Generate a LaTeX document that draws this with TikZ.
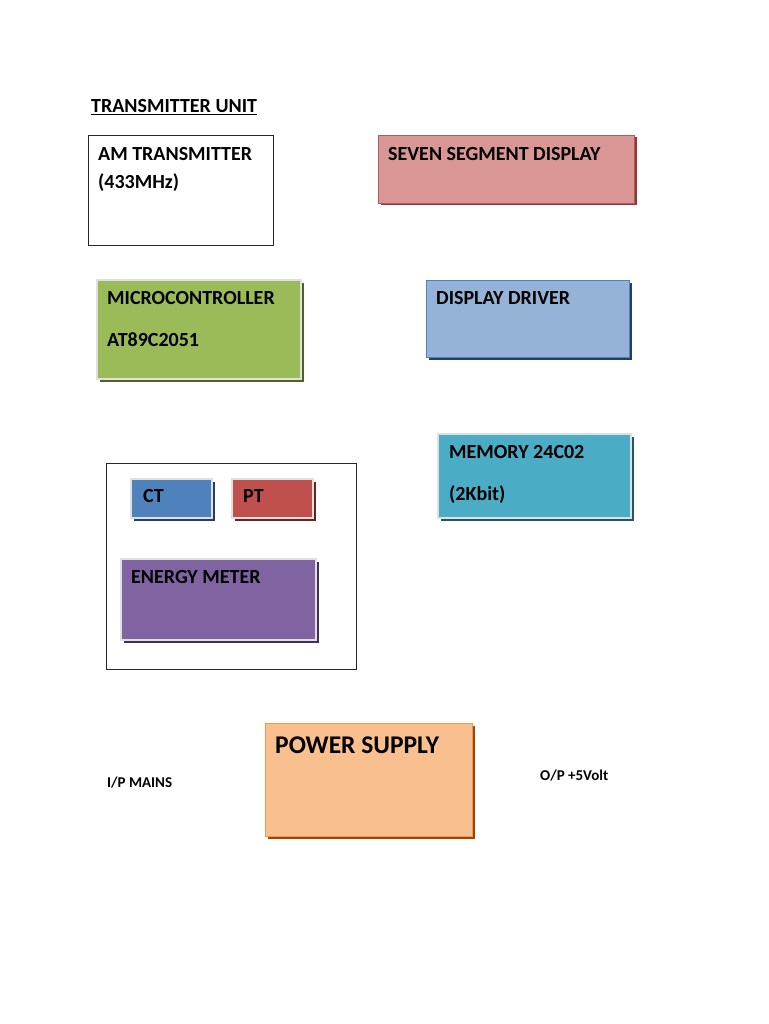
\documentclass[tikz,border=0pt]{standalone}
\usepackage{fontspec}
\setmainfont{Carlito}
\usetikzlibrary{shadows}
\definecolor{segF}{HTML}{D99694}\definecolor{segS}{HTML}{943634}
\definecolor{micF}{HTML}{9BBB59}\definecolor{micS}{HTML}{4F6228}
\definecolor{drvF}{HTML}{95B3D7}\definecolor{drvS}{HTML}{243F60}\definecolor{drvB}{HTML}{4F81BD}
\definecolor{memF}{HTML}{4BACC6}\definecolor{memS}{HTML}{205867}
\definecolor{ctF}{HTML}{4F81BD}\definecolor{ctS}{HTML}{243F60}
\definecolor{ptF}{HTML}{C0504D}\definecolor{ptS}{HTML}{632423}
\definecolor{emF}{HTML}{8064A2}\definecolor{emS}{HTML}{3F3151}
\definecolor{psF}{HTML}{FABF8F}\definecolor{psS}{HTML}{974806}\definecolor{psB}{HTML}{F79646}
\tikzset{
  box/.style={rectangle, anchor=north west, inner sep=0pt, outer sep=0pt},
  plainbox/.style={box, draw=black!85, line width=0.8pt, fill=white},
  glowbox/.style={box, draw=white!88!black, line width=2.5pt},
  shad/.style={drop shadow={shadow xshift=2.5pt, shadow yshift=-2.5pt, fill=#1, opacity=1}},
  lbl/.style={anchor=base west, inner sep=0pt, font=\bfseries\fontsize{20}{24}\selectfont},
  small/.style={anchor=base west, inner sep=0pt, font=\bfseries\fontsize{15}{18}\selectfont},
}
\begin{document}
\begin{tikzpicture}[x=1pt,y=-1pt]
\useasboundingbox (0,0) rectangle (768,1024);
\fill[white] (0,0) rectangle (768,1024);
% title
\node[lbl] (title) at (91,112.5) {\underline{TRANSMITTER UNIT}};
% AM transmitter
\node[plainbox, minimum width=185, minimum height=110] (am) at (88,135) {};
\node[lbl] (amt1) at (98,160.5) {AM TRANSMITTER};
\node[lbl] (amt2) at (98,188.5) {(433MHz)};
% seven segment
\node[box, shad=segS, draw=segS!60!segF, line width=0.6pt, fill=segF, minimum width=256, minimum height=68] (seg) at (378,135) {};
\node[lbl] (segt) at (388,160.5) {SEVEN SEGMENT DISPLAY};
% microcontroller
\node[glowbox, shad=micS, fill=micF, minimum width=204, minimum height=99] (mic) at (97,280) {};
\node[lbl] (mict1) at (107,304) {MICROCONTROLLER};
\node[lbl] (mict2) at (107,346) {AT89C2051};
% display driver
\node[box, shad=drvS, draw=drvB, line width=0.6pt, fill=drvF, minimum width=203, minimum height=77] (drv) at (426,280) {};
\node[lbl] (drvt) at (436,304) {DISPLAY DRIVER};
% memory
\node[glowbox, shad=memS, fill=memF, minimum width=193, minimum height=84] (mem) at (438,434) {};
\node[lbl] (memt1) at (449,458) {MEMORY 24C02};
\node[lbl] (memt2) at (449,500) {(2Kbit)};
% outer box
\node[plainbox, minimum width=250, minimum height=206] (outer) at (106,463) {};
\node[glowbox, shad=ctS, fill=ctF, minimum width=81, minimum height=39] (ct) at (131,479) {};
\node[lbl] (ctt) at (143,502) {CT};
\node[glowbox, shad=ptS, fill=ptF, minimum width=81, minimum height=39] (pt) at (232,479) {};
\node[lbl] (ptt) at (243,502) {PT};
\node[glowbox, shad=emS, fill=emF, minimum width=195, minimum height=81] (em) at (121,559) {};
\node[lbl] (emt) at (131,583) {ENERGY METER};
% power supply
\node[box, shad=psS, draw=psB, line width=0.6pt, fill=psF, minimum width=207, minimum height=113] (ps) at (265,723) {};
\node[anchor=base west, inner sep=0pt, font=\bfseries\fontsize{25.5}{30}\selectfont] (pst) at (275,753) {POWER SUPPLY};
\node[small] (ip) at (107,787) {I/P MAINS};
\node[small] (op) at (540,780) {O/P +5Volt};
\end{tikzpicture}
\end{document}
